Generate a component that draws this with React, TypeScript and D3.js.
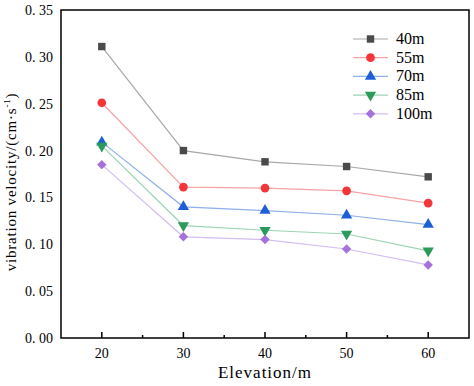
import React from 'react';
import * as d3 from 'd3';

const elevations = [20, 30, 40, 50, 60];
const seriesNames = ['40m', '55m', '70m', '85m', '100m'];
const v40 = [0.311, 0.2, 0.188, 0.183, 0.172];
const v55 = [0.251, 0.161, 0.16, 0.157, 0.144];
const v70 = [0.209, 0.14, 0.136, 0.131, 0.121];
const v85 = [0.205, 0.12, 0.115, 0.111, 0.093];
const v100 = [0.185, 0.108, 0.105, 0.095, 0.078];
const yTicks = [0, 0.05, 0.1, 0.15, 0.2, 0.25, 0.3, 0.35];

const series = [
  { name: seriesNames[0], values: v40, color: '#4a4a4a', line: '#a8a8a8', symbol: d3.symbolSquare, size: 55, rot: 0 },
  { name: seriesNames[1], values: v55, color: '#f2363a', line: '#f5a3a5', symbol: d3.symbolCircle, size: 60, rot: 0 },
  { name: seriesNames[2], values: v70, color: '#1f5fd6', line: '#8fb0e8', symbol: d3.symbolTriangle, size: 55, rot: 0 },
  { name: seriesNames[3], values: v85, color: '#2c9a5b', line: '#9dd4b3', symbol: d3.symbolTriangle, size: 55, rot: 180 },
  { name: seriesNames[4], values: v100, color: '#a572dc', line: '#d4bdf0', symbol: d3.symbolSquare, size: 45, rot: 45 },
];

const W = 474, H = 386;
const m = { left: 61, right: 5, top: 10, bottom: 48 };
const font = "'Liberation Serif', 'DejaVu Serif', serif";

function Marker({ s, x, y }: { s: any; x: number; y: number }) {
  const p = d3.symbol(s.symbol, s.size)()!;
  return <path d={p} transform={`translate(${x},${y}) rotate(${s.rot})`} fill={s.color} />;
}

export default function App() {
  const x = d3.scaleLinear().domain([15, 65]).range([m.left, W - m.right]);
  const y = d3.scaleLinear().domain([0, 0.35]).range([H - m.bottom, m.top]);
  const line = d3.line<number>().x((_, i) => x(elevations[i])).y(d => y(d));
  const minor = d3.range(25, 65, 10);

  return (
    <svg width={W} height={H} style={{ position: 'absolute', left: 0, top: 0, background: '#fff', fontFamily: font }}>
      <rect x={m.left} y={m.top} width={W - m.right - m.left} height={H - m.bottom - m.top} fill="none" stroke="#000" strokeWidth={1.5} />
      {elevations.map(t => (
        <g key={t}>
          <line x1={x(t)} x2={x(t)} y1={y(0)} y2={y(0) - 6} stroke="#000" strokeWidth={1.5} />
          <text x={x(t)} y={y(0) + 20} textAnchor="middle" fontSize={14}>{t}</text>
        </g>
      ))}
      {minor.map(t => (
        <line key={t} x1={x(t)} x2={x(t)} y1={y(0)} y2={y(0) - 3} stroke="#000" strokeWidth={1.5} />
      ))}
      {yTicks.map(t => (
        <text key={t} x={m.left - 8} y={y(t) + 5} textAnchor="end" fontSize={14}>
          {t.toFixed(2).replace('.', '. ')}
        </text>
      ))}
      <text x={(m.left + W - m.right) / 2} y={H - 8} textAnchor="middle" fontSize={17} letterSpacing={1}>Elevation/m</text>
      <text transform={`translate(16,182) rotate(-90)`} textAnchor="middle" fontSize={15} letterSpacing={0.8}>
        vibration velocity/(cm·s<tspan dy={-6} fontSize={9}>-1</tspan><tspan dy={6}>)</tspan>
      </text>
      {series.map(s => (
        <g key={s.name}>
          <path d={line(s.values)!} fill="none" stroke={s.line} strokeWidth={1.2} />
          {s.values.map((v, i) => <Marker key={i} s={s} x={x(elevations[i])} y={y(v)} />)}
        </g>
      ))}
      {series.map((s, i) => {
        const ly = 39 + i * 18.7;
        return (
          <g key={s.name}>
            <line x1={353} x2={388} y1={ly} y2={ly} stroke={s.line} strokeWidth={1.2} />
            <Marker s={s} x={370.5} y={ly} />
            <text x={396} y={ly + 5} fontSize={16}>{s.name}</text>
          </g>
        );
      })}
    </svg>
  );
}
